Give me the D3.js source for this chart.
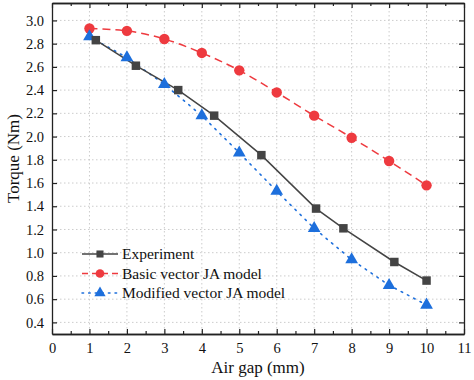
<!DOCTYPE html>
<html>
<head>
<meta charset="utf-8">
<script src="https://cdn.jsdelivr.net/npm/d3@7"></script>
<style>
  html, body { margin: 0; padding: 0; background: #fff; }
  svg { display: block; }
  text { font-family: "Liberation Serif", "Times New Roman", serif; fill: #111; }
</style>
</head>
<body>
<svg id="chart" width="474" height="380"></svg>
<script>
// ---- Data ----
const expX = [1.17, 2.24, 3.37, 4.33, 5.59, 7.05, 7.78, 9.14, 10.0];
const expY = [2.83, 2.61, 2.40, 2.18, 1.84, 1.38, 1.21, 0.92, 0.76];
const basicX = [1, 2, 3, 4, 5, 6, 7, 8, 9, 10];
const basicY = [2.93, 2.91, 2.84, 2.72, 2.57, 2.38, 2.18, 1.99, 1.79, 1.58];
const modX = [1, 2, 3, 4, 5, 6, 7, 8, 9, 10];
const modY = [2.86, 2.68, 2.45, 2.18, 1.86, 1.53, 1.21, 0.94, 0.72, 0.55];
const xTicks = [0, 1, 2, 3, 4, 5, 6, 7, 8, 9, 10, 11];
const yTicks = [0.4, 0.6, 0.8, 1.0, 1.2, 1.4, 1.6, 1.8, 2.0, 2.2, 2.4, 2.6, 2.8, 3.0];
const seriesNames = ["Experiment", "Basic vector JA model", "Modified vector JA model"];

// ---- Layout ----
const L = 52, R = 464, T = 3, B = 334;
const FONT = '"Liberation Serif", "Times New Roman", serif';
const svg = d3.select("#chart");
const x = d3.scaleLinear().domain([0, 11]).range([L, R]);
const y = d3.scaleLinear().domain([0.3, 3.15]).range([B, T]);

const gray = "#444444", red = "#ee3a3f", blue = "#1d6fdc";

// grid
const grid = svg.append("g");
xTicks.filter(d => d > 0 && d < 11).forEach(d => {
  grid.append("line").attr("x1", x(d)).attr("x2", x(d)).attr("y1", T).attr("y2", B)
    .attr("stroke", "#cccccc").attr("stroke-width", 1).attr("stroke-dasharray", "1.5,2.5");
});
yTicks.forEach(d => {
  grid.append("line").attr("x1", L).attr("x2", R).attr("y1", y(d)).attr("y2", y(d))
    .attr("stroke", "#cccccc").attr("stroke-width", 1).attr("stroke-dasharray", "1.5,2.5");
});

// axes (inward ticks)
const minorX = d3.range(0, 11.01, 0.5).filter(v => v % 1 !== 0);
const axB = d3.axisBottom(x).tickValues(xTicks).tickSizeInner(-5).tickSizeOuter(0).tickPadding(9).tickFormat(d3.format("d"));
const axBm = d3.axisBottom(x).tickValues(minorX).tickSizeInner(-3).tickSizeOuter(0).tickFormat("");
const axT = d3.axisTop(x).tickValues(xTicks).tickSizeInner(-5).tickSizeOuter(0).tickFormat("");
const axTm = d3.axisTop(x).tickValues(minorX).tickSizeInner(-3).tickSizeOuter(0).tickFormat("");
const axL = d3.axisLeft(y).tickValues(yTicks).tickSizeInner(-5).tickSizeOuter(0).tickPadding(8).tickFormat(d3.format(".1f"));
const axR = d3.axisRight(y).tickValues(yTicks).tickSizeInner(-5).tickSizeOuter(0).tickFormat("");

function styleAxis(g) {
  g.attr("font-family", FONT).attr("font-size", 14.5);
  g.selectAll("path.domain").attr("stroke", "#222").attr("stroke-width", 1.3);
  g.selectAll(".tick line").attr("stroke", "#222").attr("stroke-width", 1.2);
  g.selectAll("text").attr("fill", "#111").style("font-family", FONT);
}
svg.append("g").attr("transform", `translate(0,${B})`).call(axB).call(styleAxis);
svg.append("g").attr("transform", `translate(0,${B})`).call(axBm).call(styleAxis);
svg.append("g").attr("transform", `translate(0,${T})`).call(axT).call(styleAxis);
svg.append("g").attr("transform", `translate(0,${T})`).call(axTm).call(styleAxis);
svg.append("g").attr("transform", `translate(${L},0)`).call(axL).call(styleAxis);
svg.append("g").attr("transform", `translate(${R},0)`).call(axR).call(styleAxis);

// axis titles
svg.append("text").attr("x", (L + R) / 2).attr("y", 373).attr("text-anchor", "middle")
  .attr("font-size", 17).text("Air gap (mm)");
svg.append("text").attr("transform", `translate(19,${(T + B) / 2 - 10}) rotate(-90)`)
  .attr("text-anchor", "middle").attr("font-size", 17).text("Torque (Nm)");

// series
const expData = expX.map((v, i) => [v, expY[i]]);
const basicData = basicX.map((v, i) => [v, basicY[i]]);
const modData = modX.map((v, i) => [v, modY[i]]);
const linear = d3.line().x(d => x(d[0])).y(d => y(d[1]));
const smooth = d3.line().x(d => x(d[0])).y(d => y(d[1])).curve(d3.curveMonotoneX);

svg.append("path").attr("d", smooth(basicData))
  .attr("fill", "none").attr("stroke", red).attr("stroke-width", 1.5).attr("stroke-dasharray", "8,5");
svg.append("path").attr("d", linear(modData))
  .attr("fill", "none").attr("stroke", blue).attr("stroke-width", 1.6).attr("stroke-dasharray", "1.6,5.5")
  .attr("stroke-linecap", "round");
svg.append("path").attr("d", linear(expData))
  .attr("fill", "none").attr("stroke", gray).attr("stroke-width", 1.5);

const sym = {
  sq: d3.symbol().type(d3.symbolSquare).size(72),
  ci: d3.symbol().type(d3.symbolCircle).size(85),
  tr: d3.symbol().type(d3.symbolTriangle).size(70)
};
svg.append("g").selectAll("path").data(basicData).join("path")
  .attr("transform", d => `translate(${x(d[0])},${y(d[1])})`).attr("d", sym.ci()).attr("fill", red);
svg.append("g").selectAll("path").data(modData).join("path")
  .attr("transform", d => `translate(${x(d[0])},${y(d[1])})`).attr("d", sym.tr()).attr("fill", blue);
svg.append("g").selectAll("path").data(expData).join("path")
  .attr("transform", d => `translate(${x(d[0])},${y(d[1])})`).attr("d", sym.sq()).attr("fill", gray);

// legend
const legSym = {
  sq: d3.symbol().type(d3.symbolSquare).size(50),
  ci: d3.symbol().type(d3.symbolCircle).size(60),
  tr: d3.symbol().type(d3.symbolTriangle).size(55)
};
const leg = svg.append("g");
const rows = [
  { name: seriesNames[0], color: gray, dash: null, s: legSym.sq, round: false },
  { name: seriesNames[1], color: red, dash: "6,4", s: legSym.ci, round: false },
  { name: seriesNames[2], color: blue, dash: "1.6,5", s: legSym.tr, round: true }
];
rows.forEach((r, i) => {
  const yy = 254 + i * 19.5;
  leg.append("line").attr("x1", 82).attr("x2", 118).attr("y1", yy).attr("y2", yy)
    .attr("stroke", r.color).attr("stroke-width", 1.5).attr("stroke-dasharray", r.dash)
    .attr("stroke-linecap", r.round ? "round" : "butt");
  leg.append("path").attr("transform", `translate(100,${yy})`).attr("d", r.s()).attr("fill", r.color);
  leg.append("text").attr("x", 122).attr("y", yy + 5).attr("font-size", 15.5).text(r.name);
});
</script>
</body>
</html>
